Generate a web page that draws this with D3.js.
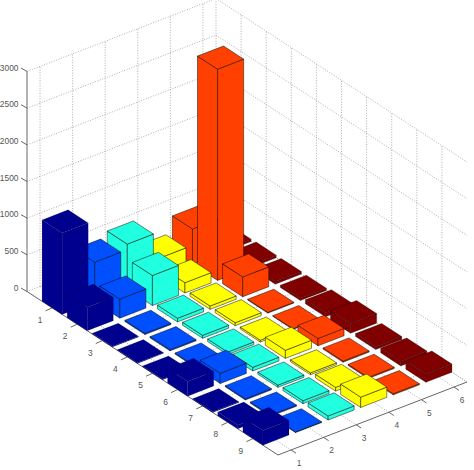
<!DOCTYPE html>
<html><head><meta charset="utf-8">
<script src="https://cdn.jsdelivr.net/npm/d3@7/dist/d3.min.js"></script>
<style>html,body{margin:0;padding:0;background:#fff}svg{display:block}text{font-family:"Liberation Sans",Arial,sans-serif;font-size:8.4px;fill:#555}</style>
</head><body><svg id="c" width="474" height="470"></svg>
<script>
const columnTicks=[1,2,3,4,5,6];
const rowTicks=[1,2,3,4,5,6,7,8,9];
const heightTicks=[0,500,1000,1500,2000,2500,3000];
const column1=[1110,320,10,10,10,200,10,50,200];
const column2=[540,260,15,15,15,140,15,15,10];
const column3=[615,410,50,40,35,50,30,40,55];
const column4=[255,140,45,40,25,110,25,50,140];
const column5=[478,2880,270,10,10,100,15,15,15];
const column6=[30,35,35,30,55,130,40,65,110];
const seriesValues=[column1,column2,column3,column4,column5,column6];
const seriesColors=["#00008f","#0050ff","#20ffdf","#ffff00","#ff4000","#800000"];
const barWidth=0.8;

const svg=d3.select("#c");
// oblique projection: each data axis is a scale that contributes to screen x and y
const xToPx=d3.scaleLinear().domain([0.6,6.4]).range([0,189]);
const xToPy=d3.scaleLinear().domain([0.6,6.4]).range([0,-73]);
const yToPx=d3.scaleLinear().domain([0,10]).range([0,251]);
const yToPy=d3.scaleLinear().domain([0,10]).range([0,163.5]);
const zToPy=d3.scaleLinear().domain([0,3000]).range([291.5,71.5]);
const P=(x,y,z)=>[27+xToPx(x)+yToPx(y),zToPy(z)+xToPy(x)+yToPy(y)];
const path=d3.line();
const X0=0.6,X1=6.4,Y0=0,Y1=10,Z1=3000;

const gGrid=svg.append("g").attr("fill","none").attr("stroke","#999").attr("stroke-width",0.8).attr("stroke-dasharray","1 1.6");
const seg=(a,b)=>gGrid.append("path").attr("d",path([a,b]));
columnTicks.forEach(x=>{seg(P(x,Y0,0),P(x,Y0,Z1));seg(P(x,Y0,0),P(x,Y1,0));});
rowTicks.forEach(y=>{seg(P(X1,y,0),P(X1,y,Z1));seg(P(X0,y,0),P(X1,y,0));});
heightTicks.forEach(z=>{seg(P(X0,Y0,z),P(X1,Y0,z));seg(P(X1,Y0,z),P(X1,Y1,z));});
seg(P(X1,Y0,0),P(X1,Y1,0));seg(P(X1,Y0,0),P(X1,Y0,Z1));

const gAxis=svg.append("g").attr("fill","none").attr("stroke","#666").attr("stroke-width",1);
const axisLine=(a,b)=>gAxis.append("path").attr("d",path([a,b]));
axisLine(P(X0,Y0,0),P(X0,Y0,Z1));
axisLine(P(X0,Y0,0),P(X0,Y1,0));
axisLine(P(X0,Y1,0),P(X1,Y1,0));
const gText=svg.append("g");
heightTicks.forEach(z=>{
  const p=P(X0,Y0,z);
  axisLine(p,[p[0]-6,p[1]-3.5]);
  gText.append("text").attr("x",p[0]-8.5).attr("y",p[1]-1).attr("text-anchor","end").text(z);
});
rowTicks.forEach(y=>{
  const p=P(X0,y,0);
  axisLine(p,[p[0]-6.5,p[1]+3]);
  gText.append("text").attr("x",p[0]-12).attr("y",p[1]+15).attr("text-anchor","middle").text(y);
});
columnTicks.forEach(x=>{
  const p=P(x,Y1,0);
  axisLine(p,[p[0]+5,p[1]+3.3]);
  gText.append("text").attr("x",p[0]+8).attr("y",p[1]+16).attr("text-anchor","middle").text(x);
});

const gBars=svg.append("g");
for(let c=columnTicks.length-1;c>=0;c--){
  rowTicks.forEach((rowNo,r)=>{
    const h=seriesValues[c][r];
    const a=columnTicks[c]-barWidth/2,b=columnTicks[c]+barWidth/2;
    const u=rowNo-barWidth/2,v=rowNo+barWidth/2;
    const faces=[
      [P(a,u,0),P(a,v,0),P(a,v,h),P(a,u,h)],
      [P(a,v,0),P(b,v,0),P(b,v,h),P(a,v,h)],
      [P(a,u,h),P(a,v,h),P(b,v,h),P(b,u,h)]
    ];
    gBars.selectAll(null).data(faces).enter().append("path")
      .attr("d",f=>path(f)+"Z")
      .attr("fill",seriesColors[c])
      .attr("stroke","#000").attr("stroke-opacity",c===0?0.15:(c===5?0.35:0.6)).attr("stroke-width",0.8).attr("stroke-linejoin","round");
  });
}
</script></body></html>
